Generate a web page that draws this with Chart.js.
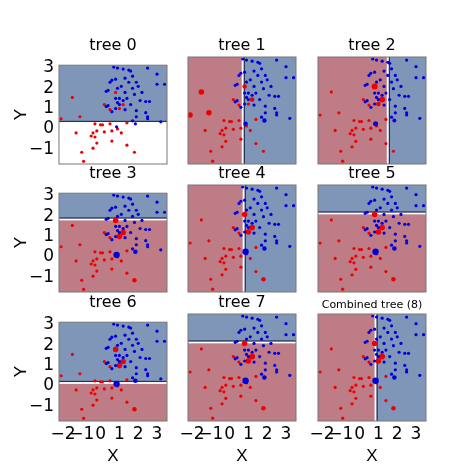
<!DOCTYPE html>
<html><head><meta charset="utf-8">
<script src="https://cdn.jsdelivr.net/npm/chart.js@4/dist/chart.umd.min.js"></script>
<style>body{margin:0;width:474px;height:474px;background:#fff;position:relative;overflow:hidden;font-family:"DejaVu Sans"}
canvas{position:absolute}.t{position:absolute;text-align:center;width:108px;font-size:16px;color:#000}</style>
</head><body>
<script>
const treeTitles=["tree 0","tree 1","tree 2","tree 3","tree 4","tree 5","tree 6","tree 7","Combined tree (8)"];
const blueX=[0.7,0.9,1.2,1.5,1.6,2.5,3.0,3.4,3.0,0.5,0.6,0.8,1.3,1.7,1.9,2.0,1.7,1.5,1.1,0.9,0.4,0.3,1.3,2.2,1.8,0.8,1.0,1.4,2.1,2.4,2.6,0.3,0.4,1.0,1.6,0.8,0.6,1.3,1.9,2.4,1.9,2.5,2.5,0.85,1.85,0.9,1.2,3.2,1.7];
const blueY=[3.05,3.0,2.95,2.9,2.85,3.0,2.7,2.2,2.2,2.3,2.4,2.45,2.5,2.6,2.3,2.1,2.0,2.3,2.1,2.0,1.9,1.85,1.8,1.8,1.7,1.5,1.5,1.5,1.4,1.35,1.35,1.1,1.15,1.2,1.2,1.0,0.85,0.95,0.9,0.8,0.6,0.6,0.5,0.1,0.25,1.3,1.4,0.35,0.4];
const redX=[-1.5,-2.1,-1.1,0.2,1.2,0.8,1.0,0.5,0.0,-0.3,0.1,0.5,1.4,-1.3,-0.4,-0.5,-0.3,0.2,0.6,1.1,0.9,-0.2,0.6,1.4,-0.4,-1.0,1.8,-0.9,-0.2];
const redY=[1.55,0.5,0.6,1.2,1.2,1.8,1.0,0.95,0.2,0.25,0.2,0.25,0.3,-0.2,-0.2,-0.35,-0.4,-0.15,-0.1,-0.2,0.0,-0.7,-0.6,-0.8,-0.95,-1.15,-1.15,-1.6,-0.1];
// per-tree sample weights of heavier points (index -> weight), others weight 1
const blueWeights=[{},{43:2,44:2},{43:2.5,44:1.5},{43:4,44:2},{43:4,44:2},{43:4,44:2},{43:4,44:2},{43:4,44:2},{43:4,44:2}];
const redWeights=[{},{0:3,1:3,2:3,4:2,5:2},{4:3.5,5:3.5,6:2},{4:3,5:3,6:3,26:2},{4:3,5:3,6:3,26:2},{4:3,5:3,6:3,26:2},{4:3,5:3,6:3,26:2},{4:3.5,5:3,6:3,26:2},{4:3.5,5:3,6:3,26:2}];
const splitAxis=['y','x','x','y','x','y','y','y','x'];
const splitValue=[0.3,0.7,1.5,1.85,0.75,1.85,0.15,1.85,0.85];
const xTicks=[-2,-1,0,1,2,3], yTicks=[-1,0,1,2,3];

const colL=[59,188,318], rowT=[57,185,314], PW=108, PH=107, ML=48, MB=46, MT=4, MR=4;
const BLUE_BG='rgb(128,150,184)', RED_BG='rgb(190,124,134)';
const regions={id:'regions',beforeDatasetsDraw(c,a,o){
  const i=o.i, ctx=c.ctx, ca=c.chartArea, xs=c.scales.x, ys=c.scales.y;
  ctx.save();
  const lowC = i===0?'#ffffff':RED_BG;
  if(splitAxis[i]==='y'){const p=ys.getPixelForValue(splitValue[i]);
    ctx.fillStyle=BLUE_BG;ctx.fillRect(ca.left,ca.top,ca.width,p-ca.top);
    ctx.fillStyle=lowC;ctx.fillRect(ca.left,p,ca.width,ca.bottom-p);
    ctx.fillStyle='#fff';ctx.fillRect(ca.left,p-1,ca.width,2);
    ctx.fillStyle='#223355';ctx.fillRect(ca.left,p-2,ca.width,1.2);
  } else {const p=xs.getPixelForValue(splitValue[i]);
    ctx.fillStyle=lowC;ctx.fillRect(ca.left,ca.top,p-ca.left,ca.height);
    ctx.fillStyle=BLUE_BG;ctx.fillRect(p,ca.top,ca.right-p,ca.height);
    ctx.fillStyle='#fff';ctx.fillRect(p-1,ca.top,2,ca.height);
    ctx.fillStyle='#223355';ctx.fillRect(p+1,ca.top,1.2,ca.height);}
  ctx.restore();},
 afterDraw(c){const ca=c.chartArea,ctx=c.ctx;ctx.save();ctx.strokeStyle='#777';ctx.lineWidth=1;ctx.strokeRect(ca.left,ca.top,ca.width,ca.height);ctx.restore();}};

for(let i=0;i<9;i++){
  const r=Math.floor(i/3), col=i%3;
  const cv=document.createElement('canvas');
  const W=ML+PW+MR, H=MT+PH+MB;
  cv.width=W;cv.height=H;cv.style.left=(colL[col]-ML)+'px';cv.style.top=(rowT[r]-MT)+'px';
  cv.style.width=W+'px';cv.style.height=H+'px';
  document.body.appendChild(cv);
  const t=document.createElement('div');t.className='t';t.textContent=treeTitles[i];
  t.style.left=colL[col]+'px';t.style.top=(rowT[r]-22)+'px';
  if(i===8){t.style.fontSize='11px';t.style.top=(rowT[r]-16)+'px';}
  document.body.appendChild(t);
  const rad=(w)=>1.6*Math.sqrt(w);
  const bw=blueWeights[i], rw=redWeights[i];
  const tickFont={size:17,family:'DejaVu Sans'};
  new Chart(cv,{type:'scatter',data:{datasets:[
    {data:blueX.map((x,k)=>({x,y:blueY[k]})),backgroundColor:'#0000dd',borderWidth:0,pointRadius:blueX.map((_,k)=>rad(bw[k]||1))},
    {data:redX.map((x,k)=>({x,y:redY[k]})),backgroundColor:'#ee0000',borderWidth:0,pointRadius:redX.map((_,k)=>rad(rw[k]||1))}]},
   options:{responsive:false,animation:false,devicePixelRatio:1,layout:{padding:{top:MT,right:MR,left:0,bottom:0}},
    plugins:{legend:{display:false},tooltip:{enabled:false},regions:{i}},
    scales:{
     x:{type:'linear',min:-2.21,max:3.53,afterBuildTicks:s=>{s.ticks=xTicks.map(v=>({value:v}))},afterFit:s=>{s.height=MB},
        grid:{display:false,drawTicks:true,tickLength:3},border:{display:false},
        ticks:{display:r===2,font:tickFont,color:'#000',padding:0,maxRotation:0,autoSkip:false,callback:v=>String(v).replace('-','\u2212')},
        title:{display:r===2,text:'X',font:{size:17},color:'#000',padding:0}},
     y:{type:'linear',min:-1.73,max:3.14,afterBuildTicks:s=>{s.ticks=yTicks.map(v=>({value:v}))},afterFit:s=>{s.width=ML},
        grid:{display:false,tickLength:3},border:{display:false},
        ticks:{display:col===0,font:tickFont,color:'#000',padding:2,autoSkip:false,callback:v=>String(v).replace('-','\u2212')},
        title:{display:col===0,text:'Y',font:{size:17},color:'#000',padding:0}}}},
   plugins:[regions]});
}
</script></body></html>
